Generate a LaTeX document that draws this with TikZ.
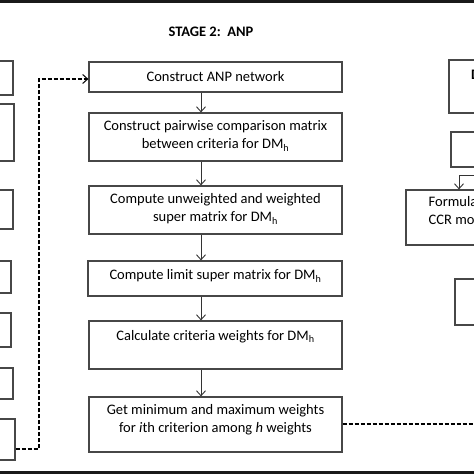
\documentclass[tikz,border=0pt]{standalone}
\usepackage{fontspec}
\setmainfont{Carlito}
\usetikzlibrary{arrows.meta}
\begin{document}
\begin{tikzpicture}[x=1pt,y=-1pt,
  every node/.style={font=\fontsize{14.5}{18}\selectfont},
  boxst/.style={draw=black!72,line width=1.2pt,rectangle,inner sep=0pt},
  txt/.style={align=center,inner sep=0pt},
  arr/.style={draw=black!80,line width=0.9pt,-{Straight Barb[length=5pt,width=9pt,line width=0.9pt]}},
  dashline/.style={draw=black,line width=1.3pt,dash pattern=on 4pt off 2pt},
  dasharr/.style={dashline,-{Straight Barb[length=5pt,width=9pt,line width=1pt]}}]
\useasboundingbox (0,0) rectangle (474,474);
\clip (0,0) rectangle (474,474);
\fill[black!90] (0,0) rectangle (474,3);
\fill[black!90] (0,471) rectangle (474,474);
\node[font=\fontsize{14.5}{18}\selectfont\bfseries] (title) at (211,32) {STAGE 2:\ \ ANP};
% main column boxes
\node[boxst,minimum width=253pt,minimum height=30pt] (b1) at (215.5,77) {};
\node[txt] (t1) at (215.5,77) {Construct ANP network};
\node[boxst,minimum width=253pt,minimum height=48pt] (b2) at (215.5,137) {};
\node[txt] (t2) at (215.5,136) {Construct pairwise comparison matrix\\between criteria for DM\textsubscript{h}};
\node[boxst,minimum width=253pt,minimum height=48pt] (b3) at (215.5,210) {};
\node[txt] (t3) at (215.5,209) {Compute unweighted and weighted\\super matrix for DM\textsubscript{h}};
\node[boxst,minimum width=254pt,minimum height=35pt] (b4) at (215,278.5) {};
\node[txt] (t4) at (215.5,276) {Compute limit super matrix for DM\textsubscript{h}};
\node[boxst,minimum width=253pt,minimum height=48pt] (b5) at (215.5,345) {};
\node[txt] (t5) at (215.5,337) {Calculate criteria weights for DM\textsubscript{h}};
\node[boxst,minimum width=253pt,minimum height=55pt] (b6) at (215.5,424.5) {};
\node[txt] (t6) at (215.5,419.5) {Get minimum and maximum weights\\for \textit{i}th criterion among \textit{h} weights};
\coordinate (ax) at (201,0);
\draw[arr] (b1.south -| ax) -- (b2.north -| ax);
\draw[arr] (b2.south -| ax) -- (b3.north -| ax);
\draw[arr] (b3.south -| ax) -- (b4.north -| ax);
\draw[arr] (b4.south -| ax) -- (b5.north -| ax);
\draw[arr] (b5.south -| ax) -- (b6.north -| ax);
% left column (cut off)
\node[boxst,minimum width=33pt,minimum height=34pt] (l1) at (-3.5,78) {};
\node[boxst,minimum width=34pt,minimum height=57pt] (l2) at (-3,132.5) {};
\node[boxst,minimum width=33pt,minimum height=39pt] (l3) at (-3.5,209.5) {};
\node[boxst,minimum width=31pt,minimum height=32pt] (l4) at (-4.5,277) {};
\node[boxst,minimum width=31pt,minimum height=34pt] (l5) at (-4.5,330) {};
\node[boxst,minimum width=33pt,minimum height=31pt] (l6) at (-3.5,383.5) {};
\node[boxst,minimum width=35pt,minimum height=41pt] (l7) at (-2.5,439.5) {};
\coordinate (d1) at (39,449);
\coordinate (d2) at (39,79);
\draw[dasharr] (l7.east |- d1) -- (d1) -- (d2) -- (b1.west |- d2);
% right column (cut off)
\node[boxst,minimum width=60pt,minimum height=53pt] (r1) at (479,86.5) {};
\node[anchor=base west,inner sep=0pt,font=\fontsize{14.5}{18}\selectfont\bfseries] (r1t) at (471,79) {D};
\node[boxst,minimum width=60pt,minimum height=35pt] (r2) at (481,149.5) {};
\node[boxst,minimum width=120pt,minimum height=55pt] (r3) at (466,217.5) {};
\node[anchor=north west,align=left,inner sep=0pt] (r3t) at (428.5,196) {Formulate\\CCR model};
\node[boxst,minimum width=60pt,minimum height=46pt] (r4) at (485,302) {};
\coordinate (c1) at (490,175);
\coordinate (c2) at (459,175);
\draw[draw=black!80,line width=0.9pt] (r2.south -| c1) -- (c1) -- (c2);
\draw[arr] (c2) -- (r3.north -| c2);
\coordinate (d3) at (490,424);
\draw[dashline] (b6.east |- d3) -- (d3);
\end{tikzpicture}
\end{document}
